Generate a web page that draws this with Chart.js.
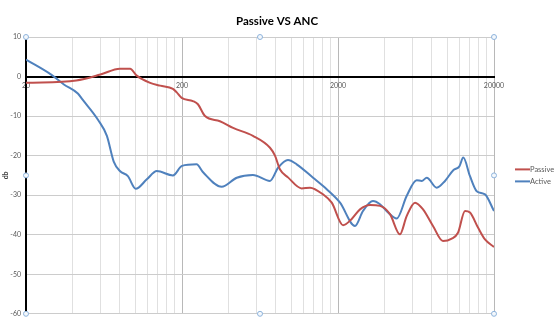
<!DOCTYPE html>
<html>
<head>
<meta charset="utf-8">
<script src="https://cdn.jsdelivr.net/npm/chart.js@4.4.0/dist/chart.umd.min.js"></script>
<style>
  html, body { margin: 0; padding: 0; background: #fff; }
  #wrap { width: 554px; height: 323px; }
</style>
</head>
<body>
<div id="wrap"><canvas id="chart"></canvas></div>
<script>
// Passive attenuation, frequency (Hz) and level (dB)
var passiveFreq = [20, 42, 60, 80, 93, 102, 125, 145, 175, 185, 199, 235, 253, 281, 350, 425, 570, 733, 789, 850, 956, 1170, 1323, 1603, 1824, 2155, 2449, 2768, 3209, 3717, 4308, 4989, 5510, 6237, 7015, 8128, 9421, 10716, 11753, 13036, 14031, 15792, 17510, 20000];
var passiveDb = [-1.6, -1, 0.5, 2, 2, 0.3, -1.6, -2.3, -3.1, -4, -5.4, -6.2, -7, -10, -11.3, -13, -15, -18, -20, -23.5, -25.5, -28.3, -28.1, -29.8, -31.9, -37.6, -36, -33.6, -32.5, -32.7, -34.8, -39.9, -35.3, -31.9, -33.6, -37.8, -41.6, -41, -39.5, -34, -34.4, -38.2, -41.2, -43.1];

// Active (ANC) attenuation
var activeFreq = [20, 29, 35, 43, 46, 58, 66, 73, 80, 90, 101, 119, 138, 175, 200, 248, 273, 359, 449, 570, 733, 828, 956, 1087, 1384, 1693, 2061, 2570, 2892, 3352, 3717, 4187, 4758, 5510, 6387, 6882, 7413, 8590, 9705, 10966, 11995, 12712, 14031, 15495, 17510, 20000];
var activeDb = [4.3, 0.5, -2, -4.3, -5.8, -11, -15, -21.5, -23.9, -25.2, -28.4, -26, -23.9, -25, -22.6, -22.2, -24.2, -27.9, -25.6, -24.9, -26.4, -23, -21.1, -22.2, -25.6, -28.5, -31.9, -37.8, -34, -31.5, -32.3, -34.4, -35.9, -30.2, -26.2, -26.4, -25.6, -28.1, -26.4, -23.7, -22.7, -20.5, -25.2, -29, -29.8, -34];

// x gridlines: every 20-multiple step inside each decade, labels on decades
var xGridTicks = [20, 40, 60, 80, 100, 120, 140, 160, 180, 200, 400, 600, 800, 1000, 1200, 1400, 1600, 1800, 2000, 4000, 6000, 8000, 10000, 12000, 14000, 16000, 18000, 20000];
var xLabelTicks = [20, 200, 2000, 20000];

function toPoints(xs, ys) {
    var pts = [];
    for (var i = 0; i < xs.length; i++) {
        pts.push({ x: xs[i], y: ys[i] });
    }
    return pts;
}

// little plot-area handles at corners and edge midpoints
var handlesPlugin = {
    id: "handles",
    afterDraw: function (chart) {
        var a = chart.chartArea;
        var ctx = chart.ctx;
        var mx = (a.left + a.right) / 2, my = (a.top + a.bottom) / 2;
        var spots = [[a.left, a.top], [mx, a.top], [a.right, a.top], [a.left, my], [a.right, my], [a.left, a.bottom], [mx, a.bottom], [a.right, a.bottom]];
        ctx.save();
        for (var i = 0; i < spots.length; i++) {
            ctx.beginPath();
            ctx.arc(spots[i][0], spots[i][1], 2.5, 0, Math.PI * 2);
            ctx.fillStyle = "#f4f8fc";
            ctx.fill();
            ctx.lineWidth = 1;
            ctx.strokeStyle = "#8db3dc";
            ctx.stroke();
        }
        ctx.restore();
    }
};

// legend to the right of the plot, centred on it vertically
var sideLegendPlugin = {
    id: "sideLegend",
    afterDraw: function (chart) {
        var a = chart.chartArea;
        var ctx = chart.ctx;
        var sets = chart.data.datasets;
        var x0 = a.right + 21;
        var y0 = (a.top + a.bottom) / 2 - 6 * (sets.length - 1);
        ctx.save();
        ctx.font = "7.5px Lato";
        ctx.textBaseline = "middle";
        ctx.fillStyle = "#595959";
        for (var i = 0; i < sets.length; i++) {
            var y = y0 + i * 12;
            ctx.beginPath();
            ctx.moveTo(x0, y);
            ctx.lineTo(x0 + 15, y);
            ctx.lineWidth = 2;
            ctx.strokeStyle = sets[i].borderColor;
            ctx.stroke();
            ctx.fillText(sets[i].label, x0 + 15, y);
        }
        ctx.restore();
    }
};

var ctx = document.getElementById("chart");
var chart = new Chart(ctx, {
    type: "line",
    data: {
        datasets: [
            {
                label: "Passive",
                data: toPoints(passiveFreq, passiveDb),
                borderColor: "#c0504d",
                backgroundColor: "#c0504d",
                borderWidth: 2,
                pointRadius: 0,
                cubicInterpolationMode: "monotone"
            },
            {
                label: "Active",
                data: toPoints(activeFreq, activeDb),
                borderColor: "#4f81bd",
                backgroundColor: "#4f81bd",
                borderWidth: 2,
                pointRadius: 0,
                cubicInterpolationMode: "monotone"
            }
        ]
    },
    options: {
        responsive: true,
        maintainAspectRatio: false,
        animation: false,
        layout: {
            padding: { left: 0, right: 0, top: 0, bottom: 8 }
        },
        plugins: {
            title: {
                display: true,
                text: "Passive VS ANC",
                color: "#000",
                font: { family: "Lato", size: 11.5, weight: "bold" },
                padding: { top: 14.5, bottom: 8.7 }
            },
            legend: { display: false },
            tooltip: { enabled: false }
        },
        scales: {
            x: {
                type: "logarithmic",
                position: { y: 0 },
                min: 20,
                max: 20000,
                afterBuildTicks: function (scale) {
                    scale.ticks = xGridTicks.map(function (v) { return { value: v }; });
                },
                ticks: {
                    autoSkip: false,
                    maxRotation: 0,
                    padding: 5,
                    color: "#595959",
                    font: { family: "Lato", size: 7 },
                    callback: function (value) {
                        return xLabelTicks.indexOf(value) >= 0 ? String(value) : "";
                    }
                },
                grid: {
                    drawTicks: false,
                    color: function (c) {
                        if (c.tick && xLabelTicks.indexOf(c.tick.value) >= 0) return "#b8b8b8";
                        return "#e0e0e0";
                    },
                    lineWidth: 1
                },
                border: { display: true, color: "#000", width: 2 }
            },
            y: {
                min: -60,
                max: 10,
                afterFit: function (scale) { scale.width = 26; },
                ticks: {
                    stepSize: 10,
                    padding: 5,
                    color: "#595959",
                    font: { family: "Lato", size: 7 }
                },
                grid: {
                    drawTicks: false,
                    color: "#cccccc",
                    lineWidth: 1
                },
                border: { display: true, color: "#000", width: 2 },
                title: {
                    display: true,
                    text: "db",
                    color: "#404040",
                    font: { family: "Lato", size: 7, weight: "bold" },
                    padding: { top: 2, bottom: 0 }
                }
            },
            // empty strip on the right that holds the legend
            legendSpace: {
                type: "linear",
                axis: "y",
                position: "right",
                display: true,
                afterFit: function (scale) { scale.width = 60; },
                ticks: { display: false },
                grid: { display: false, drawTicks: false },
                border: { display: false }
            }
        }
    },
    plugins: [handlesPlugin, sideLegendPlugin]
});
</script>
</body>
</html>
